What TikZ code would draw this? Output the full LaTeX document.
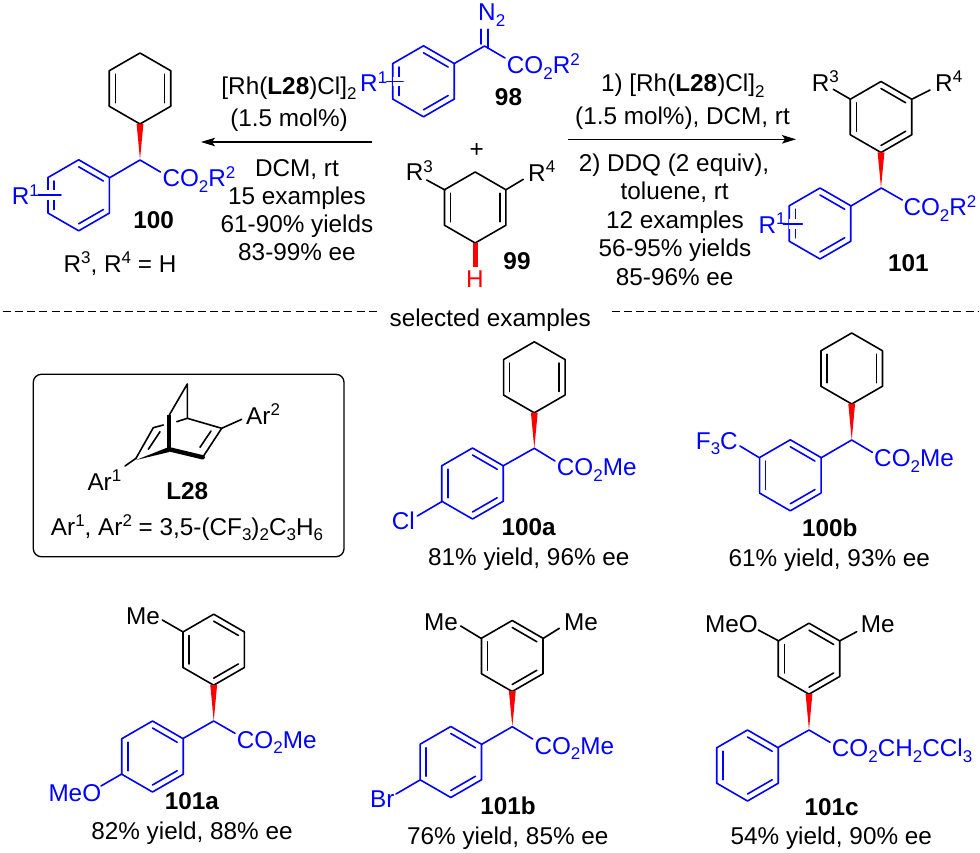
\documentclass[tikz,border=0pt]{standalone}
\usepackage{fontspec}
\setmainfont{Liberation Sans}
\usetikzlibrary{arrows.meta}
\definecolor{chemblue}{RGB}{0,0,255}
\definecolor{chemred}{RGB}{255,0,0}
\newcommand{\dn}[1]{\raisebox{-0.22em}{\fontsize{17}{17}\selectfont #1}}
\newcommand{\up}[1]{\raisebox{0.37em}{\fontsize{17}{17}\selectfont #1}}
\tikzset{
	bond/.style={line width=1.6pt,line join=round,line cap=round},
	bbond/.style={bond,color=chemblue},
	lab/.style={inner sep=0pt,anchor=base,font=\fontsize{24.3}{29}\selectfont},
	labw/.style={lab,anchor=base west},
	blab/.style={labw,text=chemblue},
	rxnarrow/.style={line width=1.3pt,-{Stealth[length=14pt,width=8.5pt,inset=3pt]}},
	sepline/.style={line width=1.5pt,dash pattern=on 8pt off 4.2pt}
}
\def\hexring[#1](#2)(#3){
	\draw[#1,shift={(#2)}] (-90:35.5) -- (-30:35.5) -- (30:35.5) -- (90:35.5) -- (150:35.5) -- (210:35.5) -- cycle;
	\foreach \a in {#3} \draw[#1,shift={(#2)}] (\a:28.5) -- (\a+60:28.5);
}
\def\redwedge(#1,#2)(#3){\fill[chemred] (#1-3.4,#2) -- (#1+3.4,#2) -- (#1,#3) -- cycle;}
\def\crossline(#1,#2)(#3,#4){
	\draw[white,line width=9.5pt] (#1+6,#2) -- (#3-3,#2);
	\draw[bbond] (#1,#2) -- (#3,#4);
}
\begin{document}
\begin{tikzpicture}[x=1pt,y=-1pt]
	\useasboundingbox (0,0) rectangle (980,853);
	
	%%%%% 100 %%%%%
	\hexring[bond](140,88.5)(-30,150);
	\redwedge(140,124)(159.5);
	\draw[bbond] (109.7,177.7) -- (140,160) -- (160.5,172);
	\hexring[bbond](78.7,195.3)(-90,30,150);
	\crossline(38.3,195)(61,195);
	\node[blab] (rone) at (11.7,205) {R\up{1}};
	\node[blab] (esterA) at (162.3,187) {CO\dn{2}R\up{2}};
	\node[lab] (cpdA) at (153.7,228.5) {\textbf{100}};
	\node[lab] (hnote) at (120,272.7) {R\up{3}, R\up{4} = H};
	
	%%%%% left conditions %%%%%
	\coordinate (arrowLa) at (372,142);
	\coordinate (arrowLb) at (201,142);
	\draw[rxnarrow] (arrowLa) -- (arrowLb);
	\node[lab] (condLa) at (289,94.3) {[Rh(\textbf{L28})Cl]\dn{2}};
	\node[lab] (condLb) at (289,127) {(1.5 mol\%)};
	\node[lab] (condLc) at (297,176.7) {DCM, rt};
	\node[lab] (condLd) at (297,204.5) {15 examples};
	\node[lab] (condLe) at (297,232.7) {61-90\% yields};
	\node[lab] (condLf) at (297,261) {83-99\% ee};
	
	%%%%% 98 %%%%%
	\hexring[bbond](423.5,81.3)(-90,30,150);
	\crossline(386.7,81.7)(403,81.7);
	\draw[bbond] (454.7,63.3) -- (484.5,46) -- (505,58);
	\draw[bbond] (480.7,44) -- (480.7,29.3);
	\draw[bbond] (488,48) -- (488,29.3);
	\node[blab] (rtwo) at (360,92) {R\up{1}};
	\node[blab] (diazo) at (478,20.7) {N\dn{2}};
	\node[blab] (esterB) at (506.7,74) {CO\dn{2}R\up{2}};
	\node[lab] (cpdB) at (508.5,106) {\textbf{98}};
	\node[lab] (plus) at (476.7,158) {+};
	
	%%%%% 99 %%%%%
	\hexring[bond](475.2,207.5)(-30,150);
	\draw[bond] (445,190) -- (426.7,180);
	\draw[bond] (505.5,190) -- (523.3,179.3);
	\draw[chemred,line width=4.6pt] (475.3,243) -- (475.3,266.7);
	\node[labw] (rthree) at (405.7,181) {R\up{3}};
	\node[labw] (rfour) at (528,181.7) {R\up{4}};
	\node[lab,text=chemred] (hydro) at (475,287.7) {H};
	\node[lab] (cpdC) at (517,269.3) {\textbf{99}};
	
	%%%%% right conditions %%%%%
	\coordinate (arrowRa) at (568.3,139.3);
	\coordinate (arrowRb) at (796,139.3);
	\draw[rxnarrow] (arrowRa) -- (arrowRb);
	\node[lab] (condRa) at (682.8,91.7) {1) [Rh(\textbf{L28})Cl]\dn{2}};
	\node[lab] (condRb) at (682.5,125) {(1.5 mol\%), DCM, rt};
	\node[lab] (condRc) at (674,171.7) {2) DDQ (2 equiv),};
	\node[lab] (condRd) at (674.7,200) {toluene, rt};
	\node[lab] (condRe) at (675,228.3) {12 examples};
	\node[lab] (condRf) at (675,256.7) {56-95\% yields};
	\node[lab] (condRg) at (674.7,285) {85-96\% ee};
	
	%%%%% 101 %%%%%
	\hexring[bond](881,117)(-90,30,150);
	\draw[bond] (850,99) -- (833.3,89.3);
	\draw[bond] (912.3,99) -- (930,90);
	\redwedge(881,152.5)(187.7);
	\draw[bbond] (851,206) -- (881.3,188) -- (902.3,200);
	\hexring[bbond](820,223.5)(-90,30,150);
	\crossline(783.3,224)(802.3,224);
	\node[labw] (rfive) at (811.7,91.7) {R\up{3}};
	\node[labw] (rsix) at (935,91.7) {R\up{4}};
	\node[blab] (rseven) at (758.3,233.3) {R\up{1}};
	\node[blab] (esterC) at (903.3,216) {CO\dn{2}R\up{2}};
	\node[lab] (cpdD) at (908.3,271.7) {\textbf{101}};
	
	%%%%% separator %%%%%
	\coordinate (sepLa) at (2.7,311.7);
	\coordinate (sepLb) at (379,311.7);
	\coordinate (sepRa) at (611.7,311.7);
	\coordinate (sepRb) at (978,311.7);
	\draw[sepline] (sepLa) -- (sepLb);
	\draw[sepline] (sepRa) -- (sepRb);
	\node[lab] (selected) at (490.3,326) {selected examples};
	
	%%%%% L28 %%%%%
	\draw[line width=1.3pt,rounded corners=8pt] (33.3,374.3) rectangle (344,556.7);
	\draw[bond] (169.3,415) -- (187.3,384) -- (187.3,418.3) -- (221.7,428.3) -- (202.7,457.3);
	\draw[bond] (187.3,418.3) -- (176.7,421.7);
	\draw[bond] (136,458.3) -- (153.3,427.7) -- (163.3,425);
	\draw[bond] (148.3,449.3) -- (160,431.7);
	\draw[bond] (200,447.3) -- (211,431);
	\draw[bond] (136,458.3) -- (125,466);
	\draw[bond] (221.7,428.3) -- (241.7,419.3);
	\draw[line width=4.2pt] (169.3,415) -- (169.3,449.3);
	\draw[line width=4.4pt,line cap=round] (169.3,449.3) -- (202.7,457.3);
	\fill (169.3,446.8) -- (169.3,452) -- (136,460) -- cycle;
	\node[labw] (artwo) at (246,424) {Ar\up{2}};
	\node[labw] (arone) at (87.3,490) {Ar\up{1}};
	\node[lab] (cpdL) at (187.3,499.3) {\textbf{L28}};
	\node[lab] (arnote) at (187,535) {Ar\up{1}, Ar\up{2} = 3,5-(CF\dn{3})\dn{2}C\dn{3}H\dn{6}};
	
	%%%%% 100a %%%%%
	\hexring[bond](534.3,377.3)(-30,150);
	\redwedge(534.3,412.5)(448.3);
	\draw[bbond] (503.3,465.7) -- (534.3,448.3) -- (555,461);
	\hexring[bbond](472.5,483.5)(-90,30,150);
	\draw[bbond] (441.7,501.7) -- (417.3,516);
	\node[blab] (clA) at (391.7,529.3) {Cl};
	\node[blab] (esterD) at (556.7,475.7) {CO\dn{2}Me};
	\node[lab] (cpdE) at (528.8,535) {\textbf{100a}};
	\node[lab] (yieldE) at (528.8,565) {81\% yield, 96\% ee};
	
	%%%%% 100b %%%%%
	\hexring[bond](851.7,368.5)(-30,150);
	\redwedge(851.7,403.5)(440);
	\draw[bbond] (821.3,457.7) -- (851.7,440) -- (872.3,452.3);
	\hexring[bbond](790.3,475.3)(-90,30,150);
	\draw[bbond] (759.3,457.7) -- (740,446);
	\node[blab] (cfA) at (695.7,449) {F\dn{3}C};
	\node[blab] (esterE) at (874,466.7) {CO\dn{2}Me};
	\node[lab] (cpdF) at (829.7,536.7) {\textbf{100b}};
	\node[lab] (yieldF) at (829.3,566) {61\% yield, 93\% ee};
	
	%%%%% 101a %%%%%
	\hexring[bond](213.7,649.7)(-90,30,150);
	\draw[bond] (182.7,631.7) -- (162.3,620);
	\redwedge(213.7,685)(721);
	\draw[bbond] (183.3,738.3) -- (213.7,721) -- (235,733.3);
	\hexring[bbond](152.5,756.5)(-90,30,150);
	\draw[bbond] (121.7,774) -- (101,786);
	\node[labw] (meA) at (126,624.3) {Me};
	\node[blab] (meoA) at (48.3,801.7) {MeO};
	\node[blab] (esterF) at (236.7,748.3) {CO\dn{2}Me};
	\node[lab] (cpdG) at (192,809) {\textbf{101a}};
	\node[lab] (yieldG) at (192,839) {82\% yield, 88\% ee};
	
	%%%%% 101b %%%%%
	\hexring[bond](512.2,656)(-90,30,150);
	\draw[bond] (481,638.3) -- (460.7,626);
	\draw[bond] (543.3,638.3) -- (559.3,628.3);
	\redwedge(512.3,691)(726.7);
	\draw[bbond] (481.7,744.3) -- (512.3,726.7) -- (532.7,739);
	\hexring[bbond](450.8,762)(-90,30,150);
	\draw[bbond] (420,780) -- (396,794);
	\node[labw] (meB) at (424,630) {Me};
	\node[labw] (meC) at (564,630) {Me};
	\node[blab] (brA) at (370,807.3) {Br};
	\node[blab] (esterG) at (534.3,754.3) {CO\dn{2}Me};
	\node[lab] (cpdH) at (508,814.3) {\textbf{101b}};
	\node[lab] (yieldH) at (507.8,844.3) {76\% yield, 85\% ee};
	
	%%%%% 101c %%%%%
	\hexring[bond](809,658.7)(-90,30,150);
	\draw[bond] (778.3,640.7) -- (758.3,630);
	\draw[bond] (840,640.7) -- (856.7,631.7);
	\redwedge(809,694)(730);
	\draw[bbond] (778.3,747.3) -- (809,730) -- (830,742.3);
	\hexring[bbond](747.5,765.5)(-90,30,150);
	\node[labw] (meoB) at (705,632.7) {MeO};
	\node[labw] (meD) at (860.7,632.7) {Me};
	\node[blab] (esterH) at (831.7,756.7) {CO\dn{2}CH\dn{2}CCl\dn{3}};
	\node[lab] (cpdI) at (831.7,815) {\textbf{101c}};
	\node[lab] (yieldI) at (831.3,844.3) {54\% yield, 90\% ee};
\end{tikzpicture}
\end{document}
